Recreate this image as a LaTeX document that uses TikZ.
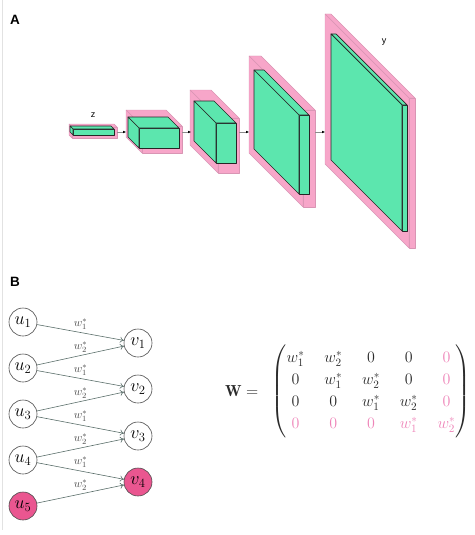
\RequirePackage{fix-cm}
\documentclass[tikz,border=0pt]{standalone}
\usepackage{amsmath}
\usepackage{fontspec}
\newfontfamily\labelfont{Liberation Sans}
\usetikzlibrary{arrows.meta}
\definecolor{boxgreen}{HTML}{5CE6AE}
\definecolor{padpink}{HTML}{F7A6C9}
\definecolor{padedge}{HTML}{D995B4}
\definecolor{nodepink}{HTML}{EA5690}
\definecolor{edgecol}{HTML}{5A6E6A}
\definecolor{matpink}{HTML}{EE84B8}
\definecolor{matgray}{HTML}{2A2A2A}
\definecolor{framegray}{HTML}{E2E2E2}

% #1 style, #2 x, #3 y (front top-left), #4 w, #5 h, #6 depth
\newcommand\cuboidbox[6]{%
  \path[#1] (#2,#3) rectangle ++(#4,#5);
  \path[#1] (#2,#3) -- ++(#4,0) -- ++(-#6,-#6) -- ++(-#4,0) -- cycle;
  \path[#1] (#2,#3) -- ++(-#6,-#6) -- ++(0,#5) -- ++(#6,#6) -- cycle;
}

\tikzset{
  padface/.style={fill=padpink, draw=padedge, line width=0.4pt, line join=round},
  greenface/.style={fill=boxgreen, draw=black!85, line width=0.7pt, line join=round},
  flowarrow/.style={draw=black!45, line width=0.4pt, -{Latex[black,length=3pt,width=2.6pt]}},
  panellabel/.style={font=\labelfont\bfseries\fontsize{13.5}{13.5}\selectfont, inner sep=0pt},
  layerlabel/.style={font=\labelfont\fontsize{9}{9}\selectfont, inner sep=0pt},
  unit/.style={circle, draw=black!70, line width=0.6pt, minimum size=28pt, inner sep=0pt,
    font=\fontsize{18}{18}\selectfont},
  hotunit/.style={unit, fill=nodepink},
  wedge/.style={draw=edgecol, line width=0.6pt, -{To[length=4pt,width=6pt]}},
  wlab/.style={above=3pt, inner sep=0pt, text=black!70, font=\fontsize{11.5}{11.5}\selectfont},
  mathtext/.style={inner sep=0pt, text=matgray, font=\fontsize{16}{22}\selectfont}
}

\begin{document}
\begin{tikzpicture}[x=1pt,y=-1pt]
\useasboundingbox (0,0) rectangle (474,535);
\draw[framegray, line width=0.6pt] (2,0) -- (2,530);

% ---------- Panel A ----------
\node[panellabel] (labA) at (15,20) {A};

\cuboidbox{padface}{72}{127}{45}{11}{3}
\cuboidbox{greenface}{73}{129}{41}{6}{3}

\cuboidbox{padface}{142}{126}{40}{27}{16}
\cuboidbox{greenface}{139}{128}{40}{20}{11}

\cuboidbox{padface}{218}{118}{21}{55}{28}
\cuboidbox{greenface}{216}{123}{20}{40}{22}

\cuboidbox{padface}{303}{110}{12}{97}{54}
\cuboidbox{greenface}{299}{115}{10}{79}{45}

\cuboidbox{padface}{409}{98}{6}{150}{84}
\cuboidbox{greenface}{402}{105}{5}{126}{71}

\node[layerlabel] (zlab) at (93,115) {z};
\node[layerlabel] (ylab) at (384,42) {y};

\coordinate (a1s) at (117,132); \coordinate (a1e) at (126,132);
\coordinate (a2s) at (182,132); \coordinate (a2e) at (191,132);
\coordinate (a3s) at (239,132); \coordinate (a3e) at (249,132);
\coordinate (a4s) at (315,132); \coordinate (a4e) at (325,132);
\draw[flowarrow] (a1s) -- (a1e);
\draw[flowarrow] (a2s) -- (a2e);
\draw[flowarrow] (a3s) -- (a3e);
\draw[flowarrow] (a4s) -- (a4e);

% ---------- Panel B ----------
\node[panellabel] (labB) at (15,282) {B};

\node[unit] (u1) at (23,322) {$u_1$};
\node[unit] (u2) at (23,368) {$u_2$};
\node[unit] (u3) at (23,414) {$u_3$};
\node[unit] (u4) at (23,460) {$u_4$};
\node[hotunit] (u5) at (23,506) {$u_5$};
\node[unit] (v1) at (138,343) {$v_1$};
\node[unit] (v2) at (138,389) {$v_2$};
\node[unit] (v3) at (138,436) {$v_3$};
\node[hotunit] (v4) at (138,482) {$v_4$};

\draw[wedge] (u1) -- node[wlab] {$w_1^*$} (v1);
\draw[wedge] (u2) -- node[wlab] {$w_2^*$} (v1);
\draw[wedge] (u2) -- node[wlab] {$w_1^*$} (v2);
\draw[wedge] (u3) -- node[wlab] {$w_2^*$} (v2);
\draw[wedge] (u3) -- node[wlab] {$w_1^*$} (v3);
\draw[wedge] (u4) -- node[wlab] {$w_2^*$} (v3);
\draw[wedge] (u4) -- node[wlab] {$w_1^*$} (v4);
\draw[wedge] (u5) -- node[wlab] {$w_2^*$} (v4);

\node[mathtext, anchor=west] (Wlab) at (225,391) {$\mathbf{W} =$};
\node[mathtext] (Wmat) at (371,391)
{\arraycolsep=10pt $\begin{pmatrix}
w_1^* & w_2^* & 0 & 0 & \textcolor{matpink}{0}\\
0 & w_1^* & w_2^* & 0 & \textcolor{matpink}{0}\\
0 & 0 & w_1^* & w_2^* & \textcolor{matpink}{0}\\
\textcolor{matpink}{0} & \textcolor{matpink}{0} & \textcolor{matpink}{0} & \textcolor{matpink}{w_1^*} & \textcolor{matpink}{w_2^*}
\end{pmatrix}$};
\end{tikzpicture}
\end{document}
